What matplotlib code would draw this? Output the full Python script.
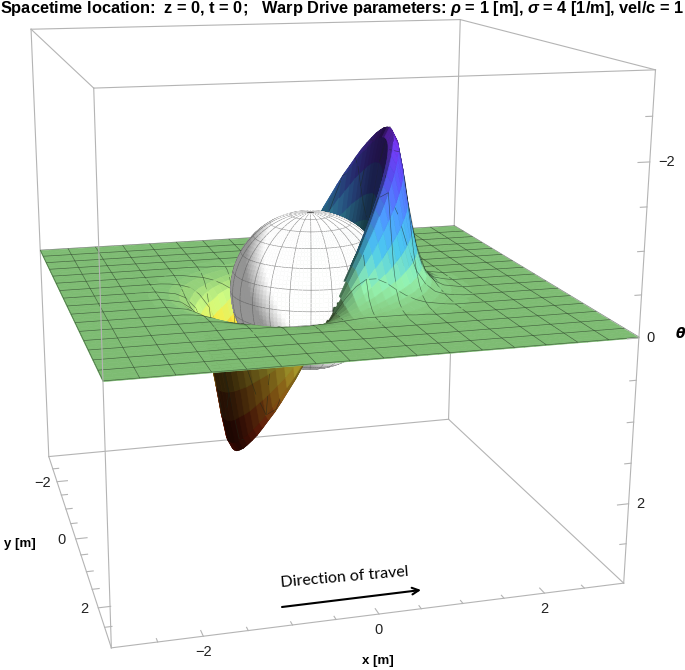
import numpy as np
import matplotlib
matplotlib.use("Agg")
import matplotlib.pyplot as plt
from matplotlib.colors import LinearSegmentedColormap, to_rgb
from matplotlib.patches import FancyArrowPatch
from mpl_toolkits.mplot3d import proj3d
from mpl_toolkits.mplot3d.art3d import Poly3DCollection

W, H = 685, 670
plt.rcParams["font.family"] = ["Liberation Sans", "DejaVu Sans"]
plt.rcParams["mathtext.fontset"] = "custom"
plt.rcParams["mathtext.it"] = "Liberation Sans:italic:bold"
plt.rcParams["mathtext.rm"] = "Liberation Sans:bold"

# |theta| on the mesh lines, x>0 y>0 quadrant, step 0.125 m, rows = y, cols = x
quadrant = [
    [0.00, 0.01, 0.02, 0.05, 0.14, 0.36, 0.84, 1.57, 2.00, 1.57, 0.84, 0.36, 0.14, 0.05, 0.02],
    [0.00, 0.01, 0.02, 0.06, 0.16, 0.38, 0.87, 1.60, 1.98, 1.52, 0.81, 0.34, 0.13, 0.05, 0.02],
    [0.00, 0.01, 0.03, 0.07, 0.20, 0.47, 1.00, 1.69, 1.91, 1.37, 0.71, 0.30, 0.12, 0.05, 0.02],
    [0.00, 0.02, 0.05, 0.13, 0.29, 0.64, 1.20, 1.78, 1.75, 1.13, 0.57, 0.24, 0.10, 0.04, 0.02],
    [0.00, 0.04, 0.10, 0.22, 0.45, 0.86, 1.43, 1.73, 1.44, 0.85, 0.41, 0.18, 0.07, 0.03, 0.01],
    [0.00, 0.08, 0.19, 0.38, 0.69, 1.15, 1.52, 1.49, 1.05, 0.57, 0.28, 0.12, 0.05, 0.02, 0.01],
    [0.00, 0.14, 0.33, 0.60, 0.95, 1.27, 1.33, 1.06, 0.67, 0.35, 0.17, 0.07, 0.03, 0.01, 0.00],
    [0.00, 0.23, 0.48, 0.76, 0.99, 1.06, 0.91, 0.63, 0.37, 0.20, 0.09, 0.04, 0.02, 0.01, 0.00],
    [0.00, 0.25, 0.48, 0.65, 0.72, 0.66, 0.50, 0.33, 0.20, 0.10, 0.05, 0.02, 0.01, 0.00, 0.00],
    [0.00, 0.17, 0.30, 0.38, 0.38, 0.32, 0.23, 0.15, 0.09, 0.05, 0.03, 0.01, 0.00, 0.00, 0.00],
    [0.00, 0.08, 0.14, 0.17, 0.16, 0.14, 0.10, 0.07, 0.04, 0.02, 0.01, 0.00, 0.00, 0.00, 0.00],
    [0.00, 0.03, 0.06, 0.07, 0.06, 0.05, 0.04, 0.03, 0.02, 0.01, 0.00, 0.00, 0.00, 0.00, 0.00],
    [0.00, 0.01, 0.02, 0.02, 0.02, 0.02, 0.02, 0.01, 0.01, 0.00, 0.00, 0.00, 0.00, 0.00, 0.00],
    [0.00, 0.00, 0.01, 0.01, 0.01, 0.01, 0.00, 0.00, 0.00, 0.00, 0.00, 0.00, 0.00, 0.00, 0.00],
    [0.00, 0.00, 0.00, 0.00, 0.00, 0.00, 0.00, 0.00, 0.00, 0.00, 0.00, 0.00, 0.00, 0.00, 0.00],
]
# |theta| around the ring, rows = angle from +x (0..90 deg by 5), cols = radius up to the crest
ring_r = [0, .25, .375, .5, .5625, .625, .6875, .75, .8125, .875, .9375, 1, 1.0625, 1.125, 1.1875, 1.25,
          1.3125, 1.375, 1.4375, 1.5, 1.625, 1.75, 2, 2.25]
ring_step_deg = 5
ring_inner = [
    [0, .02, .05, .14, .23, .36, .56, .84, 1.18, 1.57, 1.88, 2.00],
    [0, .02, .05, .14, .23, .36, .56, .84, 1.18, 1.56, 1.87, 1.99],
    [0, .02, .05, .14, .23, .35, .55, .83, 1.16, 1.55, 1.85, 1.97],
    [0, .02, .05, .14, .22, .35, .54, .81, 1.14, 1.52, 1.82, 1.93],
    [0, .02, .05, .13, .22, .34, .53, .79, 1.11, 1.48, 1.77, 1.88],
    [0, .02, .05, .13, .21, .33, .51, .76, 1.07, 1.42, 1.70, 1.81],
    [0, .02, .04, .12, .20, .31, .48, .73, 1.02, 1.36, 1.63, 1.73],
    [0, .02, .04, .11, .19, .29, .46, .69, .97, 1.29, 1.54, 1.64],
    [0, .02, .04, .11, .18, .28, .43, .64, .90, 1.20, 1.44, 1.53],
    [0, .01, .04, .10, .16, .25, .40, .59, .83, 1.11, 1.33, 1.41],
    [0, .01, .03, .09, .15, .23, .36, .54, .76, 1.01, 1.21, 1.29],
    [0, .01, .03, .08, .13, .21, .32, .48, .68, .90, 1.08, 1.15],
    [0, .01, .03, .07, .12, .18, .28, .42, .59, .79, .94, 1.00],
    [0, .01, .02, .06, .10, .15, .24, .36, .50, .66, .80, .85],
    [0, .01, .02, .05, .08, .12, .19, .29, .40, .54, .64, .68],
    [0, .01, .01, .04, .06, .09, .15, .22, .31, .41, .49, .52],
    [0, 0, .01, .02, .04, .06, .10, .15, .21, .27, .33, .35],
    [0, 0, 0, .01, .02, .03, .05, .07, .10, .14, .16, .17],
    [0, 0, 0, 0, 0, 0, 0, 0, 0, 0, 0, 0],
]
step = 0.125
mesh_every = 3
limit = 3.0
sphere_radius = 0.98

color_theta = [-2.1, -1.5, -1.1, -0.7, -0.3, 0.0, 0.3, 0.6, 1.0, 1.5, 2.0]
color_hex = ["#8020e0", "#5a50f4", "#4a8ef8", "#48c0e4", "#8ee8a8", "#7dbb73",
             "#c4f07c", "#f0e040", "#d09020", "#a03010", "#5a0800"]

major_ticks = [-2, 0, 2]
tick_labels = ["\u22122", "0", "2"]
minor_ticks = [-2.5, -1.5, -1, -0.5, 0.5, 1, 1.5, 2.5]

fig = plt.figure(figsize=(W / 100, H / 100), dpi=100)
ax = fig.add_axes([(7.5 - 41.483) / W, 35.933 / H, 670 / W, 1], projection="3d", computed_zorder=False)
ax.set_xlim(-limit, limit)
ax.set_ylim(limit, -limit)
ax.set_zlim(limit, -limit)
ax.set_axis_off()
ax.view_init(elev=15.131, azim=-105.716, roll=-0.271)
ax.set_proj_type("persp", focal_length=0.433)
ay, az = 0.968, 0.996
ax.set_box_aspect((1, ay, az), zoom=1.201)

cmap = LinearSegmentedColormap.from_list(
    "warp", [((t - color_theta[0]) / (color_theta[-1] - color_theta[0]), to_rgb(c))
             for t, c in zip(color_theta, color_hex)])
camera = np.array([-0.26, 0.93, 0.26]) * 12
light = np.array([0.6, 0.6, 0.5])
light /= np.linalg.norm(light)

verts, face_cols, edge_cols = [], [], []


def theta_color(t, s):
    c = np.array(cmap((t - color_theta[0]) / (color_theta[-1] - color_theta[0]))[:3]) * s
    return tuple(np.clip(c, 0, 1)) + (1,)


# ring part of the surface
q = np.array(ring_inner, dtype=float)
q = np.hstack([q, q[:, -2:0:-1], np.zeros((q.shape[0], 2))])
upper = np.concatenate([-q, q[-2::-1]], axis=0)
ring = np.concatenate([upper, upper[-2::-1]], axis=0)
deg = np.radians(np.arange(ring.shape[0]) * ring_step_deg)
RR, DD = np.meshgrid(ring_r, deg)
PX, PY = RR * np.cos(DD), RR * np.sin(DD)
up = np.dstack([PX, PY, -ring])
d_a = np.gradient(up, axis=0)
d_k = np.gradient(up, axis=1)
d_a[0] = d_a[-1] = up[1] - up[-2]
normals = np.cross(d_k, d_a)
normals /= np.maximum(np.linalg.norm(normals, axis=2, keepdims=True), 1e-9)
away = np.sum(normals * (camera - up), axis=2) < 0
normals[away] *= -1
flat_dot = np.array([0, 0, 1.0]) @ light
shade = np.clip(1 + 0.75 * (normals @ light - flat_dot), 0.3, 1.05)
shade[away] *= 0.72
for a in range(len(deg) - 1):
    for k in range(len(ring_r) - 1):
        verts.append(np.array([[PX[a, k], PY[a, k], ring[a, k]],
                               [PX[a, k + 1], PY[a, k + 1], ring[a, k + 1]],
                               [PX[a + 1, k + 1], PY[a + 1, k + 1], ring[a + 1, k + 1]],
                               [PX[a + 1, k], PY[a + 1, k], ring[a + 1, k]]]))
        c = theta_color(ring[a:a + 2, k:k + 2].mean(), shade[a:a + 2, k:k + 2].mean())
        face_cols.append(c)
        edge_cols.append(c)

# flat part and mesh lines
quad = np.pad(np.array(quadrant), ((0, 10), (0, 10)))
half = np.concatenate([quad[:0:-1], quad], axis=0)
theta = np.concatenate([half[:, :0:-1], -half], axis=1)
n = theta.shape[0]
grid = np.arange(n) * step - limit
X, Y = np.meshgrid(grid, grid)
flat_col = theta_color(0.0, 1.0)
for j in range(n - 1):
    for i in range(n - 1):
        if np.hypot(X[j, i] + step / 2, Y[j, i] + step / 2) > 2.0:
            verts.append(np.array([[X[j, i], Y[j, i], 0], [X[j, i + 1], Y[j, i + 1], 0],
                                   [X[j + 1, i + 1], Y[j + 1, i + 1], 0], [X[j + 1, i], Y[j + 1, i], 0]]))
            face_cols.append(flat_col)
            edge_cols.append(flat_col)

line_col = (0.1, 0.15, 0.1, 0.6)
nudge = np.array([0.0, 0.012, -0.012])
for j in range(0, n, mesh_every):
    for i in range(n - 1):
        verts.append(np.array([[X[j, i], Y[j, i], theta[j, i]], [X[j, i + 1], Y[j, i + 1], theta[j, i + 1]]]) + nudge)
        face_cols.append(line_col)
        edge_cols.append(line_col)
        verts.append(np.array([[X[i, j], Y[i, j], theta[i, j]], [X[i + 1, j], Y[i + 1, j], theta[i + 1, j]]]) + nudge)
        face_cols.append(line_col)
        edge_cols.append(line_col)

# sphere
sph_step = 3
lat = np.radians(np.arange(-90, 91, sph_step))
lon = np.radians(np.arange(0, 361, sph_step))
line_deg = 15
sph_light = np.array([0.6, 0.62, 0.5])
sph_line = (0.3, 0.3, 0.3, 0.6)


def sph(a, b, scale=1.0):
    r = sphere_radius * scale
    return np.array([r * np.cos(a) * np.cos(b), r * np.cos(a) * np.sin(b) / ay, -r * np.sin(a) / az])


for a0, a1 in zip(lat[:-1], lat[1:]):
    for b0, b1 in zip(lon[:-1], lon[1:]):
        verts.append(np.array([sph(a0, b0), sph(a0, b1), sph(a1, b1), sph(a1, b0)]))
        am, bm = (a0 + a1) / 2, (b0 + b1) / 2
        nv = np.array([np.cos(am) * np.cos(bm), np.cos(am) * np.sin(bm), np.sin(am)])
        v = float(np.clip(0.82 + 1.3 * (nv @ sph_light), 0.58, 1.0))
        face_cols.append((v, v, v, 1))
        edge_cols.append((v, v, v, 1))
for ia, a in enumerate(lat):
    if ia % (line_deg // sph_step) == 0:
        for b0, b1 in zip(lon[:-1], lon[1:]):
            verts.append(np.array([sph(a, b0, 1.004), sph(a, b1, 1.004)]))
            face_cols.append(sph_line)
            edge_cols.append(sph_line)
for ib, b in enumerate(lon[:-1]):
    if ib % (line_deg // sph_step) == 0:
        for a0, a1 in zip(lat[:-1], lat[1:]):
            verts.append(np.array([sph(a0, b, 1.004), sph(a1, b, 1.004)]))
            face_cols.append(sph_line)
            edge_cols.append(sph_line)

coll = Poly3DCollection(verts, facecolors=face_cols, edgecolors=edge_cols, linewidths=0.45, zsort="max", zorder=5)
coll.set_clip_on(False)
ax.add_collection3d(coll)
ax.set_xlim(-limit, limit)
ax.set_ylim(limit, -limit)
ax.set_zlim(limit, -limit)

# box
L = limit
box_col = "#b4b4b4"
back = [((-L, -L, -L), (L, -L, -L)), ((-L, -L, L), (L, -L, L)), ((-L, -L, -L), (-L, -L, L)), ((L, -L, -L), (L, -L, L)),
        ((-L, -L, L), (-L, L, L)), ((L, -L, L), (L, L, L))]
front = [((-L, L, -L), (L, L, -L)), ((-L, L, L), (L, L, L)), ((-L, L, -L), (-L, L, L)), ((L, L, -L), (L, L, L)),
         ((-L, -L, -L), (-L, L, -L)), ((L, -L, -L), (L, L, -L))]
for a, b in back:
    ax.plot(*zip(a, b), color=box_col, lw=0.8, zorder=1, clip_on=False)
for a, b in front:
    ax.plot(*zip(a, b), color=box_col, lw=0.8, zorder=9, clip_on=False)


def tick(a, b):
    ax.plot(*zip(a, b), color=box_col, lw=0.8, zorder=9, clip_on=False)


for t in major_ticks + minor_ticks:
    ln = 0.14 if t in major_ticks else 0.08
    tick((t, L, L), (t, L - ln, L))
    tick((-L, t, L), (-L + ln, t, L))
    tick((L, L, t), (L - ln, L, t))

M = ax.get_proj()


def tick_text(xyz, label, off, ha="center"):
    a, b, _ = proj3d.proj_transform(xyz[0], xyz[1], xyz[2], M)
    ax.annotate(label, (a, b), xytext=(off[0] * 0.72, off[1] * 0.72), textcoords="offset points",
                ha=ha, va="center", fontsize=10.5, color="#222222", annotation_clip=False)


for t, lab in zip(major_ticks, tick_labels):
    tick_text((t, L, L), lab, (0, -16))
    tick_text((-L, t, L), lab, (-14, -1))
    tick_text((L, L, t), lab, (8, 0), ha="left")

fig.text(378 / W, 1 - 661 / H, "x [m]", fontsize=9.5, fontweight="bold", ha="center", va="center")
fig.text(20 / W, 1 - 544 / H, "y [m]", fontsize=9.5, fontweight="bold", ha="center", va="center")
fig.text(680 / W, 1 - 334 / H, "\u03b8", fontsize=10, fontweight="bold", style="italic", ha="center", va="center",
         family=["DejaVu Sans"])
fig.text(0.5, 1 - 9 / H,
         "Spacetime location:  z = 0, t = 0;   Warp Drive parameters: $\\rho$ = 1 [m], $\\sigma$ = 4 [1/m], vel/c = 1",
         fontsize=11.8, fontweight="bold", ha="center", va="center")
fig.text(345 / W, 1 - 577 / H, "Direction of travel", fontsize=11.5, family=["Lato"], rotation=5, ha="center", va="center")
fig.add_artist(FancyArrowPatch((282 / W, 1 - 607 / H), (421 / W, 1 - 590 / H), transform=fig.transFigure,
                               arrowstyle="->", mutation_scale=12, lw=1.5, color="black", shrinkA=0, shrinkB=0))

fig.savefig("out.png", dpi=100)
